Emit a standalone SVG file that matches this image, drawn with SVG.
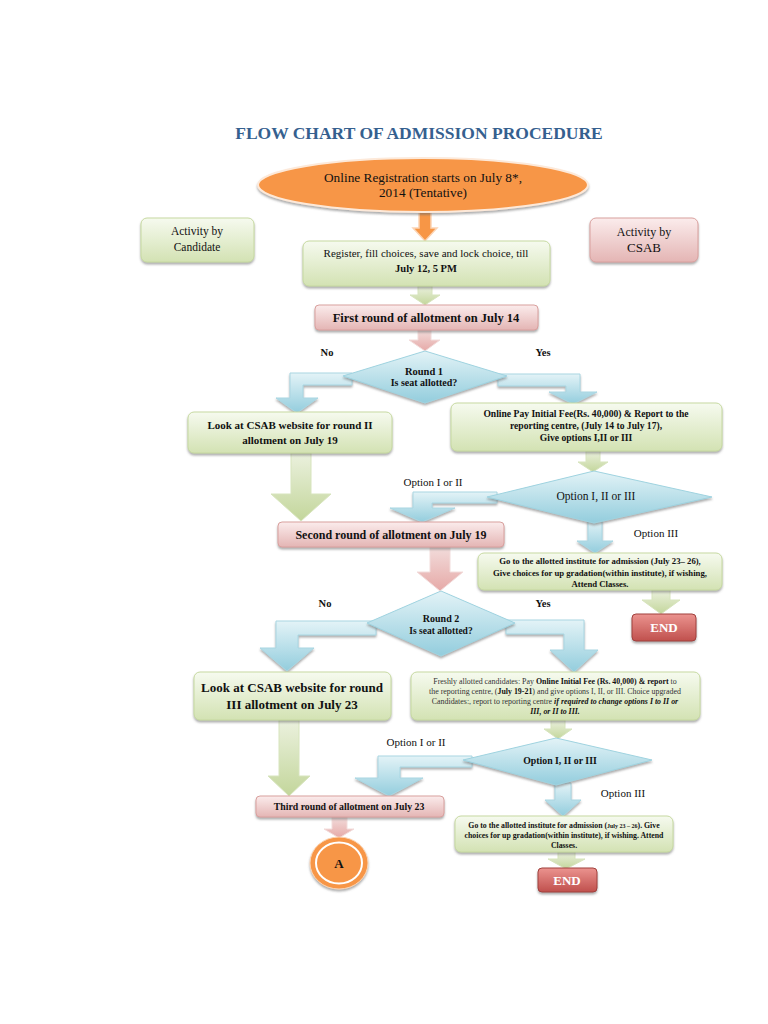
<svg xmlns="http://www.w3.org/2000/svg" width="768" height="1024" viewBox="0 0 768 1024">
<defs>
<linearGradient id="gGreen" x1="0" y1="0" x2="0" y2="1"><stop offset="0" stop-color="#f6faef"/><stop offset="1" stop-color="#d3e2b3"/></linearGradient>
<linearGradient id="gPink" x1="0" y1="0" x2="0" y2="1"><stop offset="0" stop-color="#fbecec"/><stop offset="1" stop-color="#e4b5b4"/></linearGradient>
<linearGradient id="gBlue" x1="0" y1="0" x2="0" y2="1"><stop offset="0" stop-color="#e3f3f7"/><stop offset="1" stop-color="#93cddd"/></linearGradient>
<linearGradient id="gRed" x1="0" y1="0" x2="0" y2="1"><stop offset="0" stop-color="#eb938f"/><stop offset="1" stop-color="#c0504d"/></linearGradient>
<linearGradient id="gAG" x1="0" y1="0" x2="0" y2="1"><stop offset="0" stop-color="#ebf1de"/><stop offset="1" stop-color="#c3d69b"/></linearGradient>
<linearGradient id="gAP" x1="0" y1="0" x2="0" y2="1"><stop offset="0" stop-color="#f2dcdb"/><stop offset="1" stop-color="#e6a9a7"/></linearGradient>
<filter id="sh" x="-10%" y="-20%" width="120%" height="150%"><feDropShadow dx="0" dy="2" stdDeviation="1" flood-color="#6b6b6b" flood-opacity="0.55"/></filter>
</defs>
<style>
.t{font-family:"Liberation Serif","DejaVu Serif",serif;fill:#111;text-anchor:middle}
.b{font-weight:bold}
.gbox{fill:url(#gGreen);stroke:#c6d9a0;stroke-width:1;filter:url(#sh)}
.pbox{fill:url(#gPink);stroke:#d9a09e;stroke-width:1;filter:url(#sh)}
.dia{fill:url(#gBlue);stroke:#9fd3e0;stroke-width:1;filter:url(#sh)}
.ba{fill:url(#gBlue);stroke:#a9d6e2;stroke-width:1;filter:url(#sh)}
.ag{fill:url(#gAG);stroke:#d7e4bd;stroke-width:1}
.ap{fill:url(#gAP);stroke:#f2dcdb;stroke-width:1}
.end{fill:url(#gRed);stroke:#a0403d;stroke-width:1;filter:url(#sh)}
.et{font-family:"Liberation Serif","DejaVu Serif",serif;fill:#fff;text-anchor:middle;font-weight:bold;font-size:13px}
</style>
<rect width="768" height="1024" fill="#fff"/>
<text class="t b" x="419" y="139" font-size="17.5" style="fill:#35608f">FLOW CHART OF ADMISSION PROCEDURE</text>

<g id="connectors">
<path d="M419,212 L431,212 L431,228 L437,228 L425,241 L413,228 L419,228 Z" fill="#f79646" stroke="#fbd4b4" stroke-width="1.5"/>
<path class="ag" d="M418,286 L432,286 L432,295 L440,295 L425,305 L410,295 L418,295 Z"/>
<path class="ap" d="M418,330 L431,330 L431,340 L440,340 L425,351 L409,340 L418,340 Z"/>
<path class="ba" d="M352,373 L290,373 L290,398 L276,398 L297,413 L318,398 L303,398 L303,385 L352,385 Z"/>
<path class="ba" d="M498,374 L580,374 L580,392 L597,392 L573,404 L549,392 L566,392 L566,386 L498,386 Z"/>
<path class="ag" d="M291,453 L311,453 L311,494 L331,494 L301,521 L271,494 L291,494 Z"/>
<path class="ag" d="M586,451 L600,451 L600,462 L608,462 L593,472 L578,462 L586,462 Z"/>
<path class="ba" d="M497,492 L413,492 L413,508 L390,508 L422,522 L455,508 L432,508 L432,503 L497,503 Z"/>
<path class="ba" d="M588,520 L602,520 L602,541 L613,541 L595,553 L577,541 L588,541 Z"/>
<path class="ap" d="M430,547 L450,547 L450,572 L463,572 L440,591 L417,572 L430,572 Z"/>
<path class="ag" d="M652,590 L670,590 L670,600 L680,600 L661,614 L642,600 L652,600 Z"/>
<path class="ba" d="M376,621 L276,621 L276,648 L260,648 L287,671 L314,648 L298,648 L298,635 L376,635 Z"/>
<path class="ba" d="M506,620 L584,620 L584,650 L598,650 L574,672 L550,650 L564,650 L564,634 L506,634 Z"/>
<path class="ag" d="M279,720 L299,720 L299,776 L310,776 L289,796 L268,776 L279,776 Z"/>
<path class="ag" d="M551,720 L565,720 L565,729 L572,729 L558,739 L544,729 L551,729 Z"/>
<path class="ba" d="M472,756 L378,756 L378,778 L355,778 L389,796 L423,778 L400,778 L400,767 L472,767 Z"/>
<path class="ba" d="M555,783 L571,783 L571,800 L581,800 L563,816 L545,800 L555,800 Z"/>
<path class="ap" d="M332,817 L347,817 L347,829 L354,829 L339,838 L324,829 L332,829 Z"/>
<path class="ag" d="M558,852 L575,852 L575,859 L585,859 L566,869 L548,859 L558,859 Z"/>
</g>

<g id="start">
<ellipse cx="423" cy="185" rx="165" ry="27" fill="#f79646" stroke="#fde9d9" stroke-width="2" filter="url(#sh)"/>
<text class="t" x="423" y="182" font-size="13.3">Online Registration starts on July 8*,</text>
<text class="t" x="423" y="197" font-size="13.3">2014  (Tentative)</text>
</g>
<g id="legend-candidate">
<rect class="gbox" x="141" y="218" width="113" height="44" rx="6"/>
<text class="t" x="197" y="235" font-size="11.5">Activity by</text>
<text class="t" x="197" y="251" font-size="11.5">Candidate</text>
</g>
<g id="legend-csab">
<rect class="pbox" x="590" y="218" width="108" height="44" rx="6"/>
<text class="t" x="644" y="236" font-size="12">Activity by</text>
<text class="t" x="644" y="252" font-size="13">CSAB</text>
</g>
<g id="register">
<rect class="gbox" x="303" y="241" width="247" height="45" rx="6"/>
<text class="t" x="426" y="257" font-size="11">Register, fill choices, save and lock choice, till</text>
<text class="t b" x="426" y="272" font-size="10.5">July 12, 5 PM</text>
</g>
<g id="round1-allot">
<rect class="pbox" x="315" y="305" width="223" height="25" rx="4"/>
<text class="t b" x="426" y="322" font-size="12.5">First round of allotment on July 14</text>
</g>
<text class="t b" x="327" y="356" font-size="10.5">No</text>
<text class="t b" x="543" y="356" font-size="10.5">Yes</text>
<g id="round1-decision">
<path class="dia" d="M343,376 L425,351 L507,376 L425,403 Z"/>
<text class="t b" x="424" y="375" font-size="10.5">Round 1</text>
<text class="t b" x="424" y="386" font-size="10">Is seat allotted?</text>
</g>
<g id="look-r2">
<rect class="gbox" x="188" y="412" width="204" height="41" rx="6"/>
<text class="t b" x="290" y="429" font-size="11">Look at CSAB website for round II</text>
<text class="t b" x="290" y="444" font-size="11">allotment on July 19</text>
</g>
<g id="pay-r1">
<rect class="gbox" x="451" y="403" width="271" height="48" rx="6"/>
<text class="t b" x="586" y="417" font-size="9.6">Online Pay Initial Fee(Rs. 40,000) &amp; Report to the</text>
<text class="t b" x="586" y="429" font-size="9.6">reporting centre, (July 14 to July 17),</text>
<text class="t b" x="586" y="441" font-size="9.6">Give options I,II or III</text>
</g>
<text class="t" x="433" y="486" font-size="11">Option I or II</text>
<g id="option-decision-1">
<path class="dia" d="M487,497 L594,471 L712,497 L594,523 Z"/>
<text class="t" x="596" y="500" font-size="11.5">Option I, II or III</text>
</g>
<text class="t" x="656" y="537" font-size="11">Option III</text>
<g id="round2-allot">
<rect class="pbox" x="278" y="522" width="226" height="25" rx="4"/>
<text class="t b" x="391" y="539" font-size="12">Second round of allotment on July 19</text>
</g>
<g id="admit-1">
<rect class="gbox" x="478" y="553" width="244" height="37" rx="6"/>
<text class="t b" x="600" y="564" font-size="8.7">Go to the allotted institute for admission (July 23– 26),</text>
<text class="t b" x="600" y="576" font-size="8.7">Give choices for up gradation(within institute), if wishing,</text>
<text class="t b" x="600" y="587" font-size="8.7">Attend Classes.</text>
</g>
<g id="end-1">
<rect class="end" x="632" y="614" width="64" height="27" rx="4"/>
<text class="et" x="664" y="632">END</text>
</g>
<text class="t b" x="325" y="607" font-size="10.5">No</text>
<text class="t b" x="543" y="607" font-size="10.5">Yes</text>
<g id="round2-decision">
<path class="dia" d="M367,623 L441,591 L515,623 L441,656 Z"/>
<text class="t b" x="441" y="622" font-size="10">Round 2</text>
<text class="t b" x="441" y="634" font-size="9.5">Is seat allotted?</text>
</g>
<g id="look-r3">
<rect class="gbox" x="194" y="672" width="197" height="48" rx="6"/>
<text class="t b" x="292" y="692" font-size="13">Look at CSAB website for round</text>
<text class="t b" x="292" y="709" font-size="13">III allotment on July 23</text>
</g>
<g id="pay-r2">
<rect class="gbox" x="411" y="672" width="289" height="48" rx="6"/>
<text class="t" x="555" y="684" font-size="7.9" style="fill:#333">Freshly allotted candidates: Pay <tspan font-weight="bold" style="fill:#111">Online Initial Fee (Rs. 40,000) &amp; report</tspan> to</text>
<text class="t" x="555" y="694" font-size="7.9" style="fill:#333">the reporting centre, (<tspan font-weight="bold" style="fill:#111">July 19-21</tspan>) and give options I, II, or III. Choice upgraded</text>
<text class="t" x="555" y="704" font-size="7.9" style="fill:#333">Candidates:, report to reporting centre <tspan font-weight="bold" font-style="italic" style="fill:#111">if required to change options I to II or</tspan></text>
<text class="t b" x="555" y="714" font-size="7.9" font-style="italic">III, or II to III.</text>
</g>
<text class="t" x="416" y="746" font-size="11">Option I or II</text>
<g id="option-decision-2">
<path class="dia" d="M463,760 L556,738 L652,760 L556,785 Z"/>
<text class="t b" x="560" y="764" font-size="9.8">Option I, II or III</text>
</g>
<text class="t" x="623" y="797" font-size="11">Option III</text>
<g id="round3-allot">
<rect class="pbox" x="256" y="796" width="188" height="21" rx="4"/>
<text class="t b" x="349" y="810" font-size="9.8">Third round of allotment on July 23</text>
</g>
<g id="connector-a">
<ellipse cx="339" cy="863" rx="29" ry="26" fill="#f79646" stroke="#fbd4b4" stroke-width="1" filter="url(#sh)"/>
<ellipse cx="339" cy="863" rx="23" ry="20.5" fill="none" stroke="#fff" stroke-width="2"/>
<text class="t b" x="339" y="868" font-size="13">A</text>
</g>
<g id="admit-2">
<rect class="gbox" x="455" y="816" width="218" height="36" rx="6"/>
<text class="t b" x="564" y="828" font-size="7.8">Go to the allotted institute for admission (<tspan font-size="6">July 23 – 26</tspan>). Give</text>
<text class="t b" x="564" y="838" font-size="7.8">choices for up gradation(within institute), if wishing. Attend</text>
<text class="t b" x="564" y="848" font-size="7.8">Classes.</text>
</g>
<g id="end-2">
<rect class="end" x="538" y="868" width="59" height="24" rx="4"/>
<text class="et" x="567" y="885">END</text>
</g>
</svg>
